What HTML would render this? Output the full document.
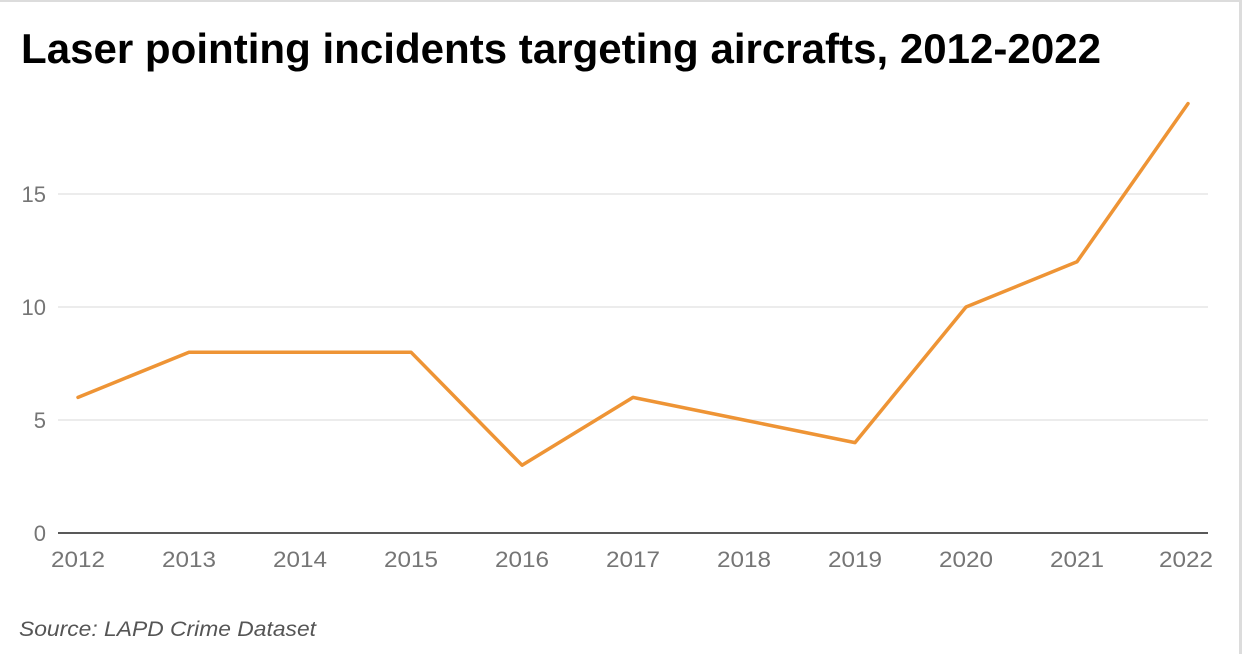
<!DOCTYPE html>
<html><head><style>
html,body{margin:0;padding:0;background:#fff;}
svg{display:block;}
</style></head><body>
<svg width="1242" height="654" xmlns="http://www.w3.org/2000/svg" font-family="Liberation Sans, sans-serif">
<rect x="0" y="0" width="1242" height="654" fill="#fff"/>
<rect x="0" y="0" width="1242" height="2" fill="#dcdcdc"/>
<rect x="1239" y="0" width="3" height="654" fill="#dcdcdc"/>
<text x="21" y="63" font-size="42" font-weight="bold" fill="#000" textLength="1080" lengthAdjust="spacingAndGlyphs">Laser pointing incidents targeting aircrafts, 2012-2022</text>
<g stroke="#e6e6e6" stroke-width="1.5">
<line x1="58" y1="194" x2="1208" y2="194"/>
<line x1="58" y1="307" x2="1208" y2="307"/>
<line x1="58" y1="420" x2="1208" y2="420"/>
</g>
<line x1="58" y1="533" x2="1208" y2="533" stroke="#222" stroke-width="1.5"/>
<g font-size="22" fill="#757575" text-anchor="end">
<text x="46" y="541">0</text>
<text x="46" y="428">5</text>
<text x="46" y="315">10</text>
<text x="46" y="202">15</text>
</g>
<g font-size="22" fill="#757575" text-anchor="middle">
<text x="78" y="567" textLength="54" lengthAdjust="spacingAndGlyphs">2012</text><text x="189" y="567" textLength="54" lengthAdjust="spacingAndGlyphs">2013</text><text x="300" y="567" textLength="54" lengthAdjust="spacingAndGlyphs">2014</text>
<text x="411" y="567" textLength="54" lengthAdjust="spacingAndGlyphs">2015</text><text x="522" y="567" textLength="54" lengthAdjust="spacingAndGlyphs">2016</text><text x="633" y="567" textLength="54" lengthAdjust="spacingAndGlyphs">2017</text>
<text x="744" y="567" textLength="54" lengthAdjust="spacingAndGlyphs">2018</text><text x="855" y="567" textLength="54" lengthAdjust="spacingAndGlyphs">2019</text><text x="966" y="567" textLength="54" lengthAdjust="spacingAndGlyphs">2020</text>
<text x="1077" y="567" textLength="54" lengthAdjust="spacingAndGlyphs">2021</text><text x="1186" y="567" textLength="54" lengthAdjust="spacingAndGlyphs">2022</text>
</g>
<polyline fill="none" stroke="#ee9435" stroke-width="3.5" stroke-linejoin="round" stroke-linecap="round"
points="78,397.4 189,352.2 300,352.2 411,352.2 522,465.2 633,397.4 744,420 855,442.6 966,307 1077,261.8 1188,103.6"/>
<text x="19" y="636" font-size="21" font-style="italic" fill="#555" textLength="297" lengthAdjust="spacingAndGlyphs">Source: LAPD Crime Dataset</text>
</svg>
</body></html>
